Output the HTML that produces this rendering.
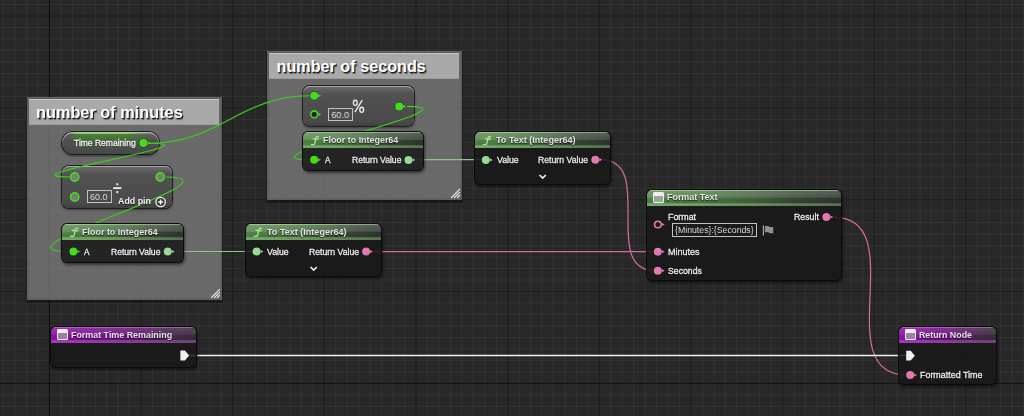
<!DOCTYPE html>
<html><head><meta charset="utf-8">
<style>
*{margin:0;padding:0;box-sizing:border-box}
html,body{width:1024px;height:416px;overflow:hidden;background:#282828}
body{position:relative;font-family:"Liberation Sans",sans-serif}
.t{position:absolute;white-space:nowrap;line-height:1;transform-origin:0 0}
.ctt{text-shadow:1px 1.2px 0 #1a1a1a,1.4px 1.8px 1px rgba(0,0,0,.45)}
.ht{text-shadow:0 1px 1px rgba(0,0,0,.7)}
.pl{text-shadow:0 1px 1px rgba(0,0,0,.9);-webkit-text-stroke:0.3px currentColor}
.p{position:absolute;overflow:visible}
.cm{position:absolute;background:rgba(130,130,130,.72);box-shadow:inset 0 0 0 2px rgba(88,88,88,.5),0 2px 0 1px rgba(0,0,0,.35)}
.ctb{position:absolute;background:#a9a9a9;box-shadow:inset 0 1px 0 #c6c6c6,inset 0 -1px 0 #9c9c9c}
.node{position:absolute;background:rgba(24,25,24,.86);border-radius:5px;box-shadow:0 0 0 1px #0b0b0b,1px 2px 3px 1px rgba(0,0,0,.5)}
.hd{position:absolute;left:0;top:0;right:0;height:16px;border-radius:5px 5px 0 0}
.fn{background:linear-gradient(to bottom,rgba(215,255,200,.55) 0,rgba(215,255,200,.55) 1px,rgba(255,255,255,.2) 1px,rgba(255,255,255,.13) 45%,rgba(0,0,0,0) 52%,rgba(0,0,0,.08) 80%,rgba(190,255,170,.28) 85%,rgba(190,255,170,.3) 100%),
 linear-gradient(to right,#538449 0%,#4c7844 28%,#43643d 52%,#374735 75%,#2e352d 100%)}
.ev{background:linear-gradient(to bottom,rgba(255,210,255,.4) 0,rgba(255,210,255,.4) 1px,rgba(255,255,255,.12) 1px,rgba(255,255,255,.07) 45%,rgba(0,0,0,0) 52%,rgba(0,0,0,.05) 80%,rgba(240,150,255,.26) 85%,rgba(240,150,255,.28) 100%),
 linear-gradient(to right,#8a17a0 0%,#7c1392 30%,#641a72 60%,#45284b 85%,#382c3b 100%)}
.pure{position:absolute;border-radius:7px;background:linear-gradient(to bottom,rgba(108,108,108,.94),rgba(80,80,80,.94) 20%,rgba(72,72,72,.94) 88%,rgba(62,62,62,.94));box-shadow:0 0 0 1px #1e1e1e,0 2px 3px rgba(0,0,0,.45),inset 0 1px 0 rgba(255,255,255,.42)}
.box{position:absolute;border:1px solid #c2c2c2}
.fi{position:absolute;font-family:"Liberation Serif",serif;font-style:italic;color:#a6e596;line-height:1}
.ico{position:absolute;width:11px;height:11px;border:1.3px solid #efefef;border-radius:1px}
svg.w{position:absolute;left:0;top:0}
</style></head><body>

<svg class="w" width="1024" height="416" viewBox="0 0 1024 416"><g fill="#ffffff" fill-opacity="0.055"><rect x="3.07" y="0" width="1" height="416"/><rect x="14.53" y="0" width="1" height="416"/><rect x="25.99" y="0" width="1" height="416"/><rect x="37.44" y="0" width="1" height="416"/><rect x="60.36" y="0" width="1" height="416"/><rect x="71.81" y="0" width="1" height="416"/><rect x="83.27" y="0" width="1" height="416"/><rect x="94.73" y="0" width="1" height="416"/><rect x="106.19" y="0" width="1" height="416"/><rect x="117.64" y="0" width="1" height="416"/><rect x="129.10" y="0" width="1" height="416"/><rect x="152.01" y="0" width="1" height="416"/><rect x="163.47" y="0" width="1" height="416"/><rect x="174.93" y="0" width="1" height="416"/><rect x="186.38" y="0" width="1" height="416"/><rect x="197.84" y="0" width="1" height="416"/><rect x="209.30" y="0" width="1" height="416"/><rect x="220.76" y="0" width="1" height="416"/><rect x="243.67" y="0" width="1" height="416"/><rect x="255.13" y="0" width="1" height="416"/><rect x="266.58" y="0" width="1" height="416"/><rect x="278.04" y="0" width="1" height="416"/><rect x="289.50" y="0" width="1" height="416"/><rect x="300.95" y="0" width="1" height="416"/><rect x="312.41" y="0" width="1" height="416"/><rect x="335.32" y="0" width="1" height="416"/><rect x="346.78" y="0" width="1" height="416"/><rect x="358.24" y="0" width="1" height="416"/><rect x="369.70" y="0" width="1" height="416"/><rect x="381.15" y="0" width="1" height="416"/><rect x="392.61" y="0" width="1" height="416"/><rect x="404.07" y="0" width="1" height="416"/><rect x="426.98" y="0" width="1" height="416"/><rect x="438.44" y="0" width="1" height="416"/><rect x="449.89" y="0" width="1" height="416"/><rect x="461.35" y="0" width="1" height="416"/><rect x="472.81" y="0" width="1" height="416"/><rect x="484.27" y="0" width="1" height="416"/><rect x="495.72" y="0" width="1" height="416"/><rect x="518.64" y="0" width="1" height="416"/><rect x="530.09" y="0" width="1" height="416"/><rect x="541.55" y="0" width="1" height="416"/><rect x="553.01" y="0" width="1" height="416"/><rect x="564.47" y="0" width="1" height="416"/><rect x="575.92" y="0" width="1" height="416"/><rect x="587.38" y="0" width="1" height="416"/><rect x="610.29" y="0" width="1" height="416"/><rect x="621.75" y="0" width="1" height="416"/><rect x="633.21" y="0" width="1" height="416"/><rect x="644.66" y="0" width="1" height="416"/><rect x="656.12" y="0" width="1" height="416"/><rect x="667.58" y="0" width="1" height="416"/><rect x="679.03" y="0" width="1" height="416"/><rect x="701.95" y="0" width="1" height="416"/><rect x="713.41" y="0" width="1" height="416"/><rect x="724.86" y="0" width="1" height="416"/><rect x="736.32" y="0" width="1" height="416"/><rect x="747.78" y="0" width="1" height="416"/><rect x="759.23" y="0" width="1" height="416"/><rect x="770.69" y="0" width="1" height="416"/><rect x="793.61" y="0" width="1" height="416"/><rect x="805.06" y="0" width="1" height="416"/><rect x="816.52" y="0" width="1" height="416"/><rect x="827.98" y="0" width="1" height="416"/><rect x="839.43" y="0" width="1" height="416"/><rect x="850.89" y="0" width="1" height="416"/><rect x="862.35" y="0" width="1" height="416"/><rect x="885.26" y="0" width="1" height="416"/><rect x="896.72" y="0" width="1" height="416"/><rect x="908.18" y="0" width="1" height="416"/><rect x="919.63" y="0" width="1" height="416"/><rect x="931.09" y="0" width="1" height="416"/><rect x="942.55" y="0" width="1" height="416"/><rect x="954.00" y="0" width="1" height="416"/><rect x="976.92" y="0" width="1" height="416"/><rect x="988.37" y="0" width="1" height="416"/><rect x="999.83" y="0" width="1" height="416"/><rect x="1011.29" y="0" width="1" height="416"/><rect x="1022.75" y="0" width="1" height="416"/><rect x="0" y="4.12" width="1024" height="1"/><rect x="0" y="27.08" width="1024" height="1"/><rect x="0" y="38.55" width="1024" height="1"/><rect x="0" y="50.03" width="1024" height="1"/><rect x="0" y="61.50" width="1024" height="1"/><rect x="0" y="72.98" width="1024" height="1"/><rect x="0" y="84.45" width="1024" height="1"/><rect x="0" y="95.93" width="1024" height="1"/><rect x="0" y="118.88" width="1024" height="1"/><rect x="0" y="130.35" width="1024" height="1"/><rect x="0" y="141.83" width="1024" height="1"/><rect x="0" y="153.30" width="1024" height="1"/><rect x="0" y="164.78" width="1024" height="1"/><rect x="0" y="176.25" width="1024" height="1"/><rect x="0" y="187.73" width="1024" height="1"/><rect x="0" y="210.68" width="1024" height="1"/><rect x="0" y="222.15" width="1024" height="1"/><rect x="0" y="233.63" width="1024" height="1"/><rect x="0" y="245.10" width="1024" height="1"/><rect x="0" y="256.58" width="1024" height="1"/><rect x="0" y="268.05" width="1024" height="1"/><rect x="0" y="279.53" width="1024" height="1"/><rect x="0" y="302.48" width="1024" height="1"/><rect x="0" y="313.95" width="1024" height="1"/><rect x="0" y="325.43" width="1024" height="1"/><rect x="0" y="336.90" width="1024" height="1"/><rect x="0" y="348.38" width="1024" height="1"/><rect x="0" y="359.85" width="1024" height="1"/><rect x="0" y="371.32" width="1024" height="1"/><rect x="0" y="394.28" width="1024" height="1"/><rect x="0" y="405.75" width="1024" height="1"/></g><g fill="#000000" fill-opacity="0.28"><rect x="140.56" y="0" width="1" height="416"/><rect x="232.21" y="0" width="1" height="416"/><rect x="323.87" y="0" width="1" height="416"/><rect x="415.52" y="0" width="1" height="416"/><rect x="507.18" y="0" width="1" height="416"/><rect x="598.84" y="0" width="1" height="416"/><rect x="690.49" y="0" width="1" height="416"/><rect x="782.15" y="0" width="1" height="416"/><rect x="873.80" y="0" width="1" height="416"/><rect x="965.46" y="0" width="1" height="416"/><rect x="0" y="15.60" width="1024" height="1"/><rect x="0" y="107.40" width="1024" height="1"/><rect x="0" y="199.20" width="1024" height="1"/><rect x="0" y="291.00" width="1024" height="1"/></g><rect x="48.9" y="0" width="1.1" height="416" fill="#121212"/><rect x="0" y="382.8" width="1024" height="1.1" fill="#121212"/></svg>
<div class="cm" style="left:27px;top:97px;width:195px;height:203px"></div>
<div class="ctb" style="left:29.2px;top:99.3px;width:189.8px;height:25.4px"></div>
<div class="t ctt" style="left:35.99px;top:104.00px;font-size:16.2px;font-weight:700;color:#ffffff;transform:scaleX(1.007);">number of minutes</div>
<svg class="p" style="left:210px;top:288px" width="11" height="11" viewBox="0 0 11 11"><path d="M9.6,1.4 L1.4,9.6 M9.6,4.4 L4.4,9.6 M9.6,7.4 L7.4,9.6" stroke="#f4f4f4" stroke-width="1.1" stroke-linecap="round"/></svg>
<div class="cm" style="left:267px;top:51px;width:195px;height:149px"></div>
<div class="ctb" style="left:269.2px;top:53.3px;width:189.8px;height:25.4px"></div>
<div class="t ctt" style="left:276.50px;top:58.00px;font-size:16.2px;font-weight:700;color:#ffffff;">number of seconds</div>
<svg class="p" style="left:450px;top:188px" width="11" height="11" viewBox="0 0 11 11"><path d="M9.6,1.4 L1.4,9.6 M9.6,4.4 L4.4,9.6 M9.6,7.4 L7.4,9.6" stroke="#f4f4f4" stroke-width="1.1" stroke-linecap="round"/></svg>
<div style="position:absolute;left:62px;top:132px;width:97px;height:22px;border-radius:11px;overflow:hidden;background:linear-gradient(to bottom,rgba(100,100,100,.95),rgba(78,78,78,.94) 40%,rgba(70,70,70,.94));box-shadow:0 0 0 1px #1a1a1a,0 2px 3px rgba(0,0,0,.5),inset 0 1.2px 0 rgba(255,255,255,.5)"><div style="position:absolute;left:8px;top:0;width:82px;height:22px;background:linear-gradient(to bottom,rgba(160,215,140,.95) 0,rgba(160,215,140,.95) 1.3px,rgba(72,128,52,.9) 2.5px,rgba(68,112,55,.85) 35%,rgba(70,96,62,.6) 62%,rgba(72,80,70,0) 85%);-webkit-mask-image:linear-gradient(to right,transparent 0,#000 8%,#000 70%,transparent 100%)"></div></div>
<div class="t pl" style="left:74.37px;top:139.00px;font-size:9.2px;font-weight:400;color:#f4f4f4;transform:scaleX(0.926);">Time Remaining</div>
<div class="pure" style="left:62px;top:166px;width:110px;height:42px"></div>
<div class="pure" style="left:303px;top:86px;width:111px;height:40px"></div>
<svg class="w" width="1024" height="416" viewBox="0 0 1024 416" fill="none" stroke-linecap="round">
<g stroke="#3fcf1d" stroke-width="1.15"><path d="M148.5,143.2 C225.3,143.2 -5.8,177.0 71.0,177.0"/><path d="M150.0,143.2 C219.0,143.2 240.5,95.7 309.5,95.7"/><path d="M166.0,177.0 C252.2,177.0 -18.2,251.5 68.0,251.5"/><path d="M407.5,106.4 C486.6,106.4 230.4,159.8 309.5,159.8"/></g>
<g stroke="#88c888" stroke-width="1.2"><path d="M415,159.6 L482,159.6"/><path d="M174.5,251.5 L252.6,251.5"/></g>
<g stroke="#cf6a9b" stroke-width="1.25"><path d="M600.5,159.7 C656.9,159.7 599.1,270.7 655.5,270.7"/><path d="M373.5,251.6 C470,251.6 560,251.7 654,251.7"/><path d="M833.0,217.0 C913.4,217.0 826.6,375.0 907.0,375.0"/></g>
<path d="M189,355.4 L906,355.4" stroke="#f0f0f0" stroke-width="1.5"/>
</svg>
<div class="node" style="left:62.3px;top:223.9px;width:120.7px;height:38.1px"><div class="hd fn"></div></div>
<div class="t ht" style="left:82.11px;top:228.00px;font-size:9.2px;font-weight:700;color:#e4e4e4;transform:scaleX(0.975);">Floor to Integer64</div>
<div class="node" style="left:303px;top:132.1px;width:120.4px;height:38.1px"><div class="hd fn"></div></div>
<div class="t ht" style="left:323.32px;top:136.00px;font-size:9.2px;font-weight:700;color:#e4e4e4;transform:scaleX(0.970);">Floor to Integer64</div>
<div class="node" style="left:475px;top:132.25px;width:135px;height:51.75px"><div class="hd fn"></div></div>
<div class="t ht" style="left:496.00px;top:136.00px;font-size:9.2px;font-weight:700;color:#e4e4e4;transform:scaleX(0.984);">To Text (Integer64)</div>
<div class="node" style="left:245.8px;top:223.8px;width:135.4px;height:51.9px"><div class="hd fn"></div></div>
<div class="t ht" style="left:266.60px;top:228.00px;font-size:9.2px;font-weight:700;color:#e4e4e4;transform:scaleX(0.984);">To Text (Integer64)</div>
<div class="node" style="left:647px;top:190px;width:194.2px;height:90.2px"><div class="hd fn"></div></div>
<div class="ico" style="left:652.9px;top:191.9px;background:linear-gradient(#efefef 0,#efefef 3.2px,#9aa898 3.2px)"></div>
<div class="t ht" style="left:667.01px;top:193.00px;font-size:9.2px;font-weight:700;color:#e4e4e4;transform:scaleX(0.971);">Format Text</div>
<div class="node" style="left:51px;top:327.2px;width:144.9px;height:39.4px"><div class="hd ev"></div></div>
<div class="ico" style="left:56.9px;top:329.1px;background:linear-gradient(#efefef 0,#efefef 3.2px,#9a80ab 3.2px)"></div>
<div class="t ht" style="left:71.22px;top:331.00px;font-size:9.2px;font-weight:700;color:#e4e4e4;transform:scaleX(0.968);">Format Time Remaining</div>
<div class="node" style="left:899px;top:327.2px;width:96.6px;height:57px"><div class="hd ev"></div></div>
<div class="ico" style="left:904.9px;top:329.1px;background:linear-gradient(#efefef 0,#efefef 3.2px,#9a80ab 3.2px)"></div>
<div class="t ht" style="left:919.22px;top:331.00px;font-size:9.2px;font-weight:700;color:#e4e4e4;transform:scaleX(0.960);">Return Node</div>
<div class="box" style="left:86.6px;top:190.1px;width:25px;height:13px"></div>
<div class="t bx" style="left:90.20px;top:193.00px;font-size:9.1px;font-weight:400;color:#dadada;transform:scaleX(0.994);">60.0</div>
<svg class="p" style="left:112px;top:182px" width="11" height="12" viewBox="0 0 11 12"><rect x="1.2" y="5.2" width="8.2" height="1.8" fill="#ececec"/><rect x="4.3" y="1.3" width="2" height="2" fill="#ececec"/><rect x="4.3" y="9.1" width="2" height="2" fill="#ececec"/></svg>
<div class="t ht" style="left:117.66px;top:197.00px;font-size:9.2px;font-weight:700;color:#f4f4f4;transform:scaleX(0.964);">Add pin</div>
<div class="box" style="left:328px;top:107.9px;width:25px;height:13.2px"></div>
<div class="t bx" style="left:331.20px;top:111.00px;font-size:9.3px;font-weight:400;color:#dadada;">60.0</div>
<svg class="p" style="left:350px;top:97px" width="18" height="18" viewBox="350 97 18 18"><g stroke="#ececec" stroke-width="1.35" fill="none"><ellipse cx="355.3" cy="102.8" rx="1.9" ry="2.6"/><ellipse cx="361.7" cy="109.8" rx="1.9" ry="2.6"/><path d="M362.2,100.2 L354.9,112.2"/></g></svg>
<div class="t pl" style="left:83.70px;top:248.00px;font-size:9.3px;font-weight:400;color:#eeeeee;transform:scaleX(0.880);">A</div>
<div class="t pl" style="left:111.11px;top:248.00px;font-size:9.3px;font-weight:400;color:#eeeeee;transform:scaleX(0.922);">Return Value</div>
<div class="t pl" style="left:324.50px;top:156.00px;font-size:9.3px;font-weight:400;color:#eeeeee;transform:scaleX(0.880);">A</div>
<div class="t pl" style="left:351.91px;top:156.00px;font-size:9.3px;font-weight:400;color:#eeeeee;transform:scaleX(0.922);">Return Value</div>
<div class="t pl" style="left:496.70px;top:156.00px;font-size:9.3px;font-weight:400;color:#eeeeee;transform:scaleX(0.941);">Value</div>
<div class="t pl" style="left:538.20px;top:156.00px;font-size:9.3px;font-weight:400;color:#eeeeee;transform:scaleX(0.935);">Return Value</div>
<div class="t pl" style="left:267.40px;top:248.00px;font-size:9.3px;font-weight:400;color:#eeeeee;transform:scaleX(0.941);">Value</div>
<div class="t pl" style="left:308.90px;top:248.00px;font-size:9.3px;font-weight:400;color:#eeeeee;transform:scaleX(0.935);">Return Value</div>
<div class="t pl" style="left:667.89px;top:213.00px;font-size:9.3px;font-weight:400;color:#eeeeee;transform:scaleX(0.953);">Format</div>
<div class="t pl" style="left:793.99px;top:213.00px;font-size:9.3px;font-weight:400;color:#eeeeee;transform:scaleX(0.945);">Result</div>
<div class="t pl" style="left:667.87px;top:248.00px;font-size:9.3px;font-weight:400;color:#eeeeee;transform:scaleX(0.971);">Minutes</div>
<div class="t pl" style="left:668.13px;top:267.00px;font-size:9.3px;font-weight:400;color:#eeeeee;transform:scaleX(0.935);">Seconds</div>
<div class="box" style="left:672.2px;top:223.2px;width:85.3px;height:13.8px"></div>
<div class="t bx" style="left:675.30px;top:226.00px;font-size:8.9px;font-weight:400;color:#d8d8d8;transform:scaleX(0.984);">{Minutes}:{Seconds}</div>
<svg class="p" style="left:762px;top:225px" width="13" height="12" viewBox="762 225 13 12"><path d="M763.4,225.6 V235.6" stroke="#a8a8a8" stroke-width="1.2"/><path d="M764.9,226 H768.2 L769.3,226.9 H773.2 V233.2 H769.6 L768.5,232.3 H764.9Z" fill="#909090"/></svg>
<div class="t pl" style="left:919.88px;top:371.00px;font-size:9.3px;font-weight:400;color:#eeeeee;transform:scaleX(0.958);">Formatted Time</div>
<svg class="w" width="1024" height="416" viewBox="0 0 1024 416"><path transform="translate(62.3,223.9)" d="M15.5,4.9 C14.9,3.9 13.5,4.0 13.1,5.5 L11.9,11.0 C11.6,12.5 10.2,13.0 8.3,12.3 M10.2,6.6 L15.3,7.0" stroke="#a4e891" stroke-width="1.3" fill="none" stroke-linecap="round"/><path transform="translate(303,132.1)" d="M15.5,4.9 C14.9,3.9 13.5,4.0 13.1,5.5 L11.9,11.0 C11.6,12.5 10.2,13.0 8.3,12.3 M10.2,6.6 L15.3,7.0" stroke="#a4e891" stroke-width="1.3" fill="none" stroke-linecap="round"/><path transform="translate(475,132.25)" d="M15.5,4.9 C14.9,3.9 13.5,4.0 13.1,5.5 L11.9,11.0 C11.6,12.5 10.2,13.0 8.3,12.3 M10.2,6.6 L15.3,7.0" stroke="#a4e891" stroke-width="1.3" fill="none" stroke-linecap="round"/><path transform="translate(245.8,223.8)" d="M15.5,4.9 C14.9,3.9 13.5,4.0 13.1,5.5 L11.9,11.0 C11.6,12.5 10.2,13.0 8.3,12.3 M10.2,6.6 L15.3,7.0" stroke="#a4e891" stroke-width="1.3" fill="none" stroke-linecap="round"/><circle cx="143.40" cy="143.10" r="4.60" fill="#000" fill-opacity=".35"/><circle cx="143.40" cy="143.10" r="4.00" fill="#46dc1e"/><path d="M147.50,141.50 L150.20,143.10 L147.50,144.70Z" fill="#46dc1e"/><circle cx="74.70" cy="177.00" r="4.10" fill="#7c7c7c" stroke="#46dc1e" stroke-width="1.6"/><circle cx="74.70" cy="197.00" r="4.10" fill="#7c7c7c" stroke="#46dc1e" stroke-width="1.6"/><circle cx="160.20" cy="177.00" r="4.10" fill="#7c7c7c" stroke="#46dc1e" stroke-width="1.6"/><g transform="translate(154.6,196)"><circle cx="6" cy="6" r="4.7" stroke="#f4f4f4" stroke-width="1.3" fill="#3a3a3a"/><path d="M6,3.5V8.5M3.5,6H8.5" stroke="#f4f4f4" stroke-width="1.4"/></g><circle cx="314.20" cy="95.70" r="4.60" fill="#000" fill-opacity=".35"/><circle cx="314.20" cy="95.70" r="4.00" fill="#46dc1e"/><path d="M318.30,94.10 L321.00,95.70 L318.30,97.30Z" fill="#46dc1e"/><circle cx="314.20" cy="114.30" r="3.40" fill="#1e1e1e" stroke="#46dc1e" stroke-width="1.6"/><path d="M318.50,112.70 L321.20,114.30 L318.50,115.90Z" fill="#46dc1e"/><circle cx="399.20" cy="106.40" r="4.60" fill="#000" fill-opacity=".35"/><circle cx="399.20" cy="106.40" r="4.00" fill="#46dc1e"/><path d="M403.30,104.80 L406.00,106.40 L403.30,108.00Z" fill="#46dc1e"/><circle cx="73.40" cy="251.50" r="4.60" fill="#000" fill-opacity=".35"/><circle cx="73.40" cy="251.50" r="4.00" fill="#46dc1e"/><path d="M77.50,249.90 L80.20,251.50 L77.50,253.10Z" fill="#46dc1e"/><circle cx="167.70" cy="251.60" r="4.60" fill="#000" fill-opacity=".35"/><circle cx="167.70" cy="251.60" r="4.00" fill="#98d898"/><path d="M171.80,250.00 L174.50,251.60 L171.80,253.20Z" fill="#98d898"/><circle cx="314.15" cy="159.80" r="4.60" fill="#000" fill-opacity=".35"/><circle cx="314.15" cy="159.80" r="4.00" fill="#46dc1e"/><path d="M318.25,158.20 L320.95,159.80 L318.25,161.40Z" fill="#46dc1e"/><circle cx="408.45" cy="159.90" r="4.60" fill="#000" fill-opacity=".35"/><circle cx="408.45" cy="159.90" r="4.00" fill="#98d898"/><path d="M412.55,158.30 L415.25,159.90 L412.55,161.50Z" fill="#98d898"/><circle cx="485.80" cy="159.90" r="4.60" fill="#000" fill-opacity=".35"/><circle cx="485.80" cy="159.90" r="4.00" fill="#98d898"/><path d="M489.90,158.30 L492.60,159.90 L489.90,161.50Z" fill="#98d898"/><circle cx="595.30" cy="159.70" r="4.60" fill="#000" fill-opacity=".35"/><circle cx="595.30" cy="159.70" r="4.00" fill="#e27aae"/><path d="M599.40,158.10 L602.10,159.70 L599.40,161.30Z" fill="#e27aae"/><path transform="translate(538.1,173.8)" d="M1.5,1.2 L4.6,4.3 L7.7,1.2" stroke="#f0f0f0" stroke-width="1.6" fill="none"/><circle cx="256.60" cy="251.50" r="4.60" fill="#000" fill-opacity=".35"/><circle cx="256.60" cy="251.50" r="4.00" fill="#98d898"/><path d="M260.70,249.90 L263.40,251.50 L260.70,253.10Z" fill="#98d898"/><circle cx="366.10" cy="251.60" r="4.60" fill="#000" fill-opacity=".35"/><circle cx="366.10" cy="251.60" r="4.00" fill="#e27aae"/><path d="M370.20,250.00 L372.90,251.60 L370.20,253.20Z" fill="#e27aae"/><path transform="translate(309.1,265.8)" d="M1.5,1.2 L4.6,4.3 L7.7,1.2" stroke="#f0f0f0" stroke-width="1.6" fill="none"/><circle cx="657.90" cy="224.50" r="3.30" fill="#1b1b1b" stroke="#e27aae" stroke-width="1.6"/><path d="M662.10,222.90 L664.80,224.50 L662.10,226.10Z" fill="#e27aae"/><circle cx="826.40" cy="217.00" r="4.60" fill="#000" fill-opacity=".35"/><circle cx="826.40" cy="217.00" r="4.00" fill="#e27aae"/><path d="M830.50,215.40 L833.20,217.00 L830.50,218.60Z" fill="#e27aae"/><circle cx="657.80" cy="251.70" r="4.60" fill="#000" fill-opacity=".35"/><circle cx="657.80" cy="251.70" r="4.00" fill="#e27aae"/><path d="M661.90,250.10 L664.60,251.70 L661.90,253.30Z" fill="#e27aae"/><circle cx="657.80" cy="270.70" r="4.60" fill="#000" fill-opacity=".35"/><circle cx="657.80" cy="270.70" r="4.00" fill="#e27aae"/><path d="M661.90,269.10 L664.60,270.70 L661.90,272.30Z" fill="#e27aae"/><path transform="translate(180.10,350.30)" d="M0.3,0.3 H4.8 L9,5.2 L4.8,10.1 H0.3 Z" fill="#f0f0f0"/><path transform="translate(905.90,350.50)" d="M0.3,0.3 H4.8 L9,5.2 L4.8,10.1 H0.3 Z" fill="#f0f0f0"/><circle cx="910.20" cy="375.00" r="4.60" fill="#000" fill-opacity=".35"/><circle cx="910.20" cy="375.00" r="4.00" fill="#e27aae"/><path d="M914.30,373.40 L917.00,375.00 L914.30,376.60Z" fill="#e27aae"/></svg>
</body></html>
